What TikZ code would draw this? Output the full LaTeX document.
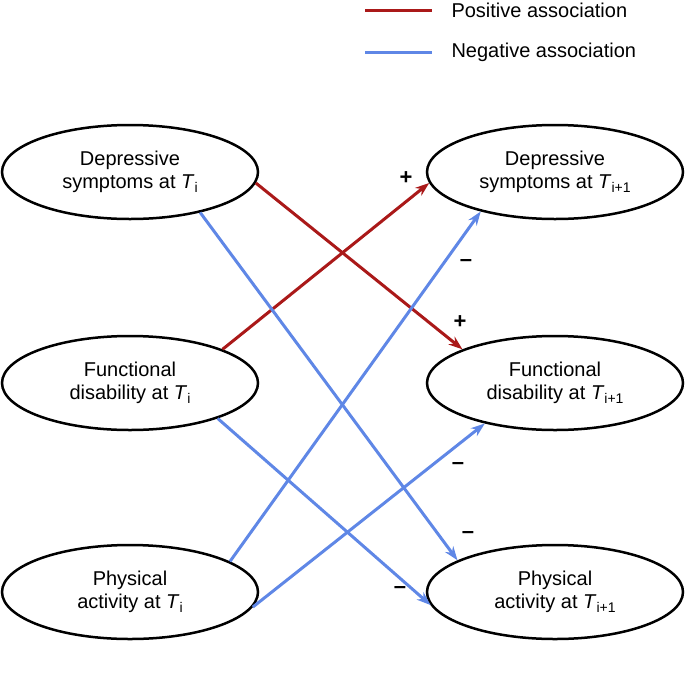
\documentclass[tikz,border=0pt]{standalone}
\usepackage{fontspec}
\setmainfont{Liberation Sans}
\usetikzlibrary{arrows.meta,shapes.geometric}
\definecolor{posred}{RGB}{170,25,25}
\definecolor{negblue}{RGB}{95,135,230}
\newcommand{\Tsub}[1]{\textit{T}\raisebox{-0.35ex}{\fontsize{14}{14}\selectfont #1}}
\begin{document}
\begin{tikzpicture}[x=1pt,y=-1pt,
  ell/.style={draw,line width=2.5pt,ellipse,minimum width=256pt,minimum height=94pt,align=center,font=\fontsize{20}{23}\selectfont},
  pa/.style={draw=posred,line width=3pt,-{Stealth[length=14pt,width=10pt]}},
  na/.style={draw=negblue,line width=3pt,-{Stealth[length=14pt,width=10pt]}},
  sg/.style={font=\fontsize{22}{22}\selectfont\bfseries},
  lg/.style={font=\fontsize{20}{22}\selectfont,anchor=west}]
\useasboundingbox (0,0) rectangle (685,675);
\node[ell] (dl) at (130,172) {Depressive\\symptoms at \Tsub{i}};
\node[ell] (fl) at (130,383) {Functional\\disability at \Tsub{i}};
\node[ell] (pl) at (130,592) {Physical\\activity at \Tsub{i}};
\node[ell] (dr) at (555,172) {Depressive\\symptoms at \Tsub{i+1}};
\node[ell] (fr) at (555,383) {Functional\\disability at \Tsub{i+1}};
\node[ell] (pr) at (555,592) {Physical\\activity at \Tsub{i+1}};
\coordinate (l1a) at (365,10); \coordinate (l1b) at (432,10);
\coordinate (l2a) at (365,52); \coordinate (l2b) at (432,52);
\draw[draw=posred,line width=3pt] (l1a) -- (l1b);
\draw[draw=negblue,line width=3pt] (l2a) -- (l2b);
\node[lg] (t1) at (448,10) {Positive association};
\node[lg] (t2) at (448,52) {Negative association};
\draw[pa] (dl.-5) -- (fr.160);
\draw[pa] (fl.20) -- (dr.185);
\draw[na] (dl.-30) -- (pr.162);
\draw[na] (fl.-22) -- (pr.186);
\draw[na] (pl.17) -- (dr.208);
\draw[na] (pl.-7) -- (fr.210);
\node[sg] (s1) at (406,178) {+};
\node[sg] (s2) at (466,263) {–};
\node[sg] (s3) at (460,322) {+};
\node[sg] (s4) at (458,466) {–};
\node[sg] (s5) at (468,535) {–};
\node[sg] (s6) at (400,590) {–};
\end{tikzpicture}
\end{document}
